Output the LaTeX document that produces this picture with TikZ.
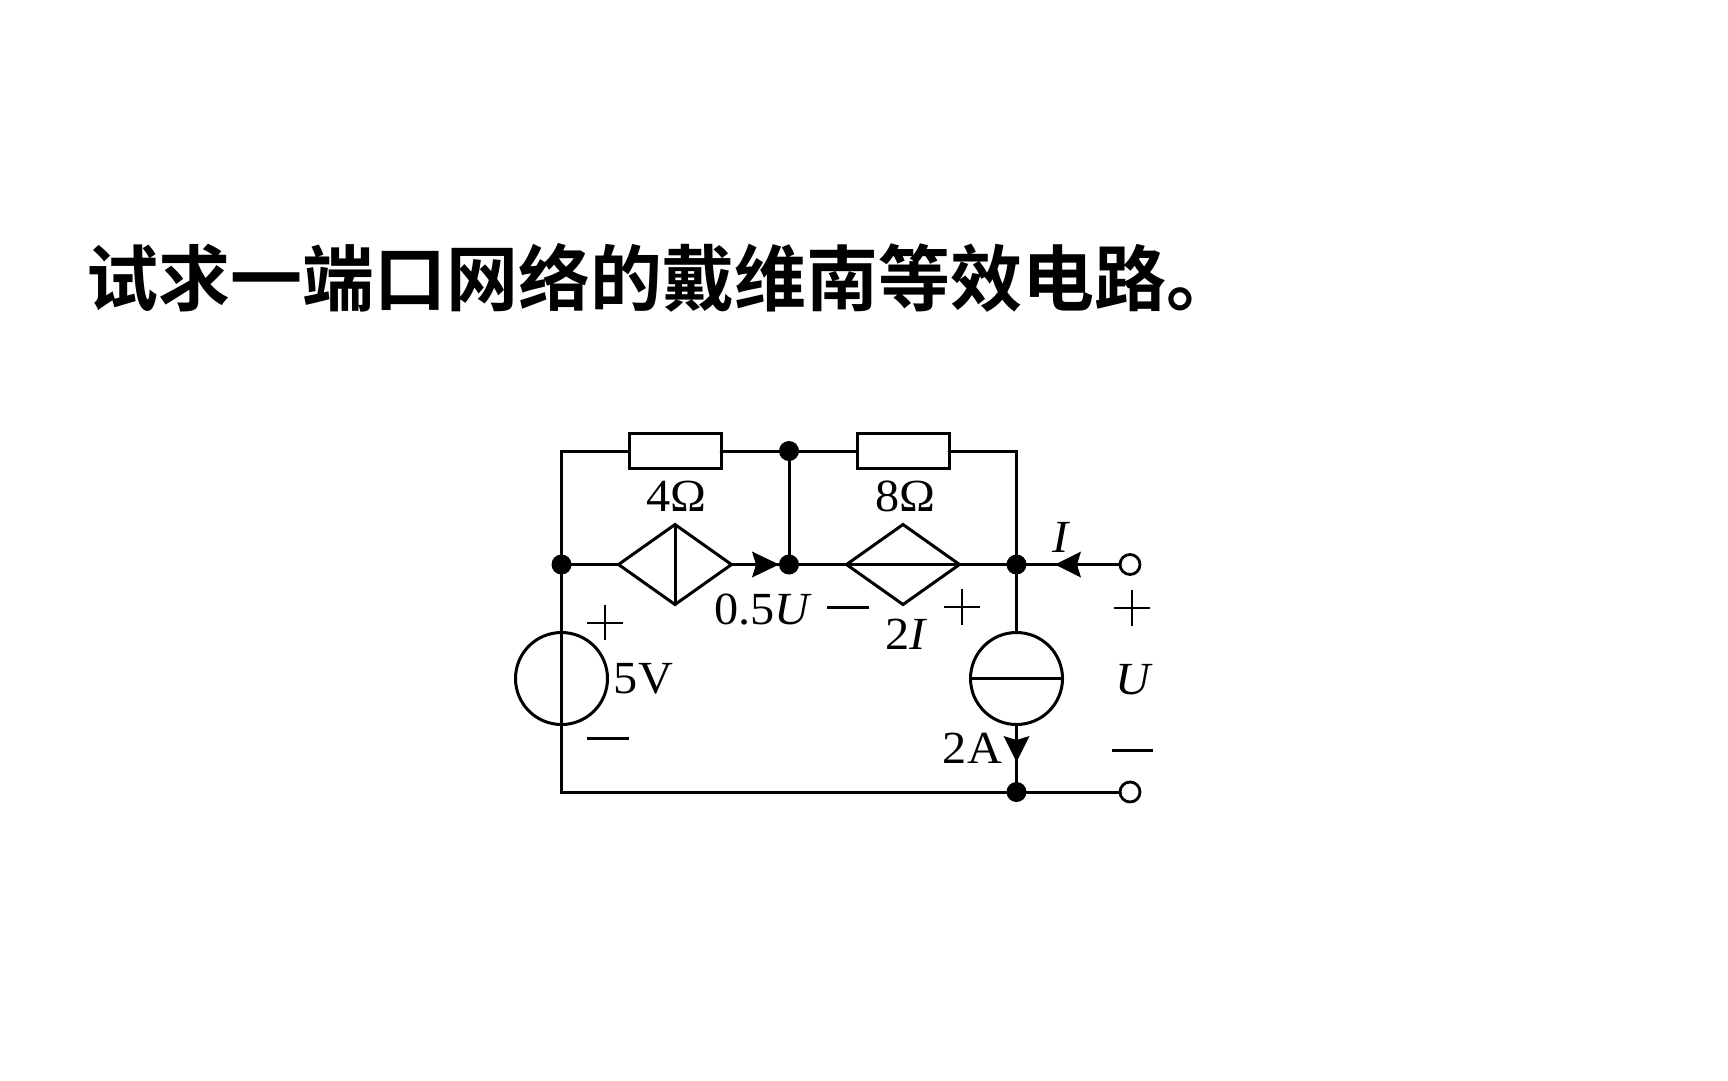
\documentclass[tikz,border=0pt]{standalone}
\usepackage{fontspec}
\setmainfont[FakeStretch=1.05]{Liberation Serif}
\newfontfamily\cjkbold[BoldFont={Noto Sans CJK SC Bold}]{Noto Sans CJK SC}
\usetikzlibrary{shapes.geometric,arrows.meta}
\tikzset{
  x=1pt,y=-1pt,
  wire/.style={line width=3pt,line cap=round,line join=miter},
  thin mark/.style={line width=1.8pt},
  bar mark/.style={line width=3pt},
  dot/.style={circle,fill=black,draw=none,minimum size=20pt,inner sep=0pt,outer sep=0pt},
  terminal/.style={circle,fill=white,draw=black,line width=2.8pt,minimum size=20pt,inner sep=0pt,outer sep=0pt},
  resistor/.style={rectangle,draw=black,fill=white,line width=3pt,minimum width=92pt,minimum height=35pt,inner sep=0pt,outer sep=0pt},
  ctrl/.style={diamond,draw=black,fill=white,line width=3pt,minimum width=113pt,minimum height=80pt,aspect=1.41,inner sep=0pt,outer sep=0pt},
  source/.style={circle,draw=black,line width=3pt,minimum size=92pt,inner sep=0pt,outer sep=0pt},
  lbl/.style={inner sep=0pt,outer sep=0pt,anchor=base,font=\fontsize{46}{46}\selectfont},
  title/.style={inner sep=0pt,outer sep=0pt,anchor=base west,font=\cjkbold\bfseries\fontsize{72}{72}\selectfont},
}
\begin{document}
\begin{tikzpicture}
\useasboundingbox[fill=white] (0,0) rectangle (1728,1080);
\node[title] (heading) at (86,305.5) {试求一端口网络的戴维南等效电路。};

% corners and junctions
\coordinate (tl) at (561.5,451);
\coordinate (tr) at (1016.5,451);
\coordinate (bl) at (561.5,792);
\node[resistor] (r1) at (675,451) {};
\node[resistor] (r2) at (903,451) {};
\node[ctrl] (d1) at (675,564.5) {};
\node[ctrl] (d2) at (903,564.5) {};
\node[source] (vs) at (561.5,678.5) {};
\node[source] (cs) at (1016.5,678.5) {};

\node[dot] (nt) at (789,451) {};
\node[dot] (nl) at (561.5,564.5) {};
\node[dot] (nm) at (789,564.5) {};
\node[dot] (nr) at (1016.5,564.5) {};
\node[dot] (nb) at (1016.5,792) {};

% wires
\draw[wire] (r1.west) -- (tl) -- (nl.center) -- (vs.north) -- (vs.south) -- (bl) -- (nb.center);
\draw[wire] (r1.east) -- (nt.center) -- (r2.west);
\draw[wire] (r2.east) -- (tr) -- (nr.center) -- (cs.north);
\draw[wire] (nt.center) -- (nm.center);
\draw[wire] (nl.center) -- (d1.west);
\draw[wire] (d1.east) -- (nm.center) -- (d2.west);
\draw[wire] (d2.west) -- (d2.east) -- (nr.center);
\draw[wire] (cs.south) -- (nb.center);
\draw[wire] (d1.north) -- (d1.south);
\draw[wire] (cs.west) -- (cs.east);

\node[terminal] (ta) at (1130,564.5) {};
\node[terminal] (tb) at (1130,792) {};
\draw[wire] (nr.center) -- (ta.west);
\draw[wire] (nb.center) -- (tb.west);

% arrowheads (slightly notched)
\fill (752,551.5) -- (779,564.5) -- (752,577.5) -- (756,564.5) -- cycle;
\fill (1081,551.5) -- (1055,564.5) -- (1081,577.5) -- (1077,564.5) -- cycle;
\fill (1003.5,736) -- (1016.5,762) -- (1029.5,736) -- (1016.5,740) -- cycle;

% polarity marks
\draw[thin mark] (587,623) -- (623,623) (605,605) -- (605,640);
\draw[bar mark] (587,738) -- (629,738);
\draw[bar mark] (827,607) -- (869,607);
\draw[thin mark] (944,607) -- (980,607) (962,589) -- (962,625);
\draw[thin mark] (1114,608) -- (1150,608) (1132,590) -- (1132,626);
\draw[bar mark] (1112,750) -- (1153,750);

% labels
\node[lbl] (l4) at (676.5,511) {4Ω};
\node[lbl] (l8) at (905.5,511) {8Ω};
\node[lbl] (l05) at (763,624) {0.5\textit{U}};
\node[lbl] (l2i) at (906.5,649) {2\textit{I}};
\node[lbl] (l5v) at (643.5,693) {5V};
\node[lbl] (l2a) at (972.5,763) {2A};
\node[lbl] (li) at (1061,552) {\textit{I}};
\node[lbl] (lu) at (1134,694) {\textit{U}};
\end{tikzpicture}
\end{document}
